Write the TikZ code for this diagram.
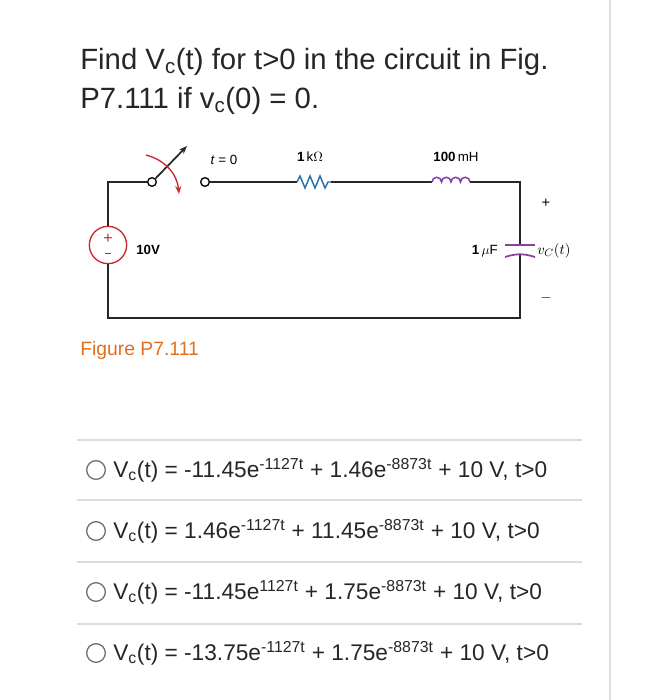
\documentclass[tikz,border=0pt]{standalone}
\usepackage{fontspec}
\setmainfont{Liberation Sans}
\usetikzlibrary{arrows.meta}
\definecolor{src}{HTML}{C8282D}
\definecolor{res}{HTML}{2A6FB0}
\definecolor{ind}{HTML}{7A3FA8}
\definecolor{capc}{HTML}{8A3F9A}
\definecolor{fig}{HTML}{E07020}
\definecolor{sep}{HTML}{DDDDDD}
\tikzset{wire/.style={line width=1.3pt,black!85},
 opt/.style={anchor=west,font=\fontsize{17}{19}\selectfont,text=black!85,inner sep=0},
 radio/.style={circle,draw=black!55,line width=1pt,minimum size=14pt,inner sep=0}}
\begin{document}
\begin{tikzpicture}[x=0.75pt,y=-0.75pt]
\useasboundingbox (0,0) rectangle (655,700);
\fill[white] (0,0) rectangle (655,700);
\draw[sep,line width=1pt] (610,0) -- (610,700);
\node[anchor=west,inner sep=0,font=\fontsize{22}{24}\selectfont,text=black!85] (t1) at (80,62) {Find V\textsubscript{c}(t) for t>0 in the circuit in Fig.};
\node[anchor=west,inner sep=0,font=\fontsize{22}{24}\selectfont,text=black!85] (t2) at (80,101) {P7.111 if v\textsubscript{c}(0) = 0.};
% circuit
\coordinate (tl) at (108,182); \coordinate (bl) at (108,318);
\coordinate (tr) at (520,182); \coordinate (br) at (520,318);
\node[circle,draw=src,line width=1pt,minimum size=28pt,inner sep=0] (vs) at (108,245) {};
\node[src,font=\fontsize{12}{12}\selectfont,inner sep=0] (vp) at (108,239) {+};
\node[src,inner sep=0] (vm) at (108,253) {\rule{5pt}{0.6pt}};
\node[anchor=west,font=\bfseries\fontsize{10}{10}\selectfont,inner sep=0] (vl) at (136,250) {10V};
\node[circle,draw,line width=1pt,fill=white,minimum size=6.5pt,inner sep=0] (s1) at (152,182) {};
\node[circle,draw,line width=1pt,fill=white,minimum size=6.5pt,inner sep=0] (s2) at (205,182) {};
\draw[wire] (vs.north) -- (tl) -- (s1.west);
\draw[wire] (vs.south) -- (bl) -- (br) -- (520,254);
\draw[wire,-{Stealth[length=6pt]}] (s1.north east) -- (187,146);
\draw[src,line width=1pt,-{Stealth[length=6pt]}] (146,155) to[bend left=35] (179,194);
\node[font=\fontsize{10}{10}\selectfont,inner sep=0] (t0) at (224,160) {\textit{t} = 0};
\draw[wire] (s2.east) -- (297,182);
\draw[res,line width=1.1pt] (297,182) -- (300,176) -- (305,188) -- (310,176) -- (315,188) -- (320,176) -- (325,188) -- (328,182) -- (331,182);
\draw[wire] (331,182) -- (432,182);
\draw[ind,line width=1.1pt] (432,182) arc(180:360:4.75) arc(180:360:4.75) arc(180:360:4.75) arc(180:360:4.75);
\draw[wire] (470,182) -- (tr) -- (520,245);
\node[font=\fontsize{10}{10}\selectfont,inner sep=0] (rl) at (310,157) {\textbf{1}\,k$\Omega$};
\node[font=\fontsize{10}{10}\selectfont,inner sep=0] (ll) at (456,157) {\textbf{100}\,mH};
\draw[capc,line width=1.3pt] (505,245) -- (535,245);
\draw[capc,line width=1.3pt] (505,257) to[bend left=18] (535,257);
\node[anchor=east,font=\fontsize{10}{10}\selectfont,inner sep=0] (cl) at (498,251) {\textbf{1}\,$\mu$F};
\node[anchor=west,font=\fontsize{11}{11}\selectfont,inner sep=0] (vc) at (537,251) {$v_C(t)$};
\node[font=\fontsize{11}{11}\selectfont,inner sep=0] (pl) at (546,203) {+};
\node[font=\fontsize{11}{11}\selectfont,inner sep=0] (mi) at (546,298) {$-$};
\node[anchor=west,fill=white,inner sep=0,font=\fontsize{14.5}{15}\selectfont,text=fig] (fl) at (80,350) {Figure P7.111};
% options
\foreach \y in {440,500,562,624} \draw[sep,line width=0.8pt] (77,\y) -- (582,\y);
\node[radio] (r1) at (96,470) {}; \node[radio] (r2) at (96,531) {};
\node[radio] (r3) at (96,592) {}; \node[radio] (r4) at (96,653) {};
\node[opt] (o1) at (113,470) {V\textsubscript{c}(t) = -11.45e\textsuperscript{-1127t} + 1.46e\textsuperscript{-8873t} + 10 V, t>0};
\node[opt] (o2) at (113,531) {V\textsubscript{c}(t) = 1.46e\textsuperscript{-1127t} + 11.45e\textsuperscript{-8873t} + 10 V, t>0};
\node[opt] (o3) at (113,592) {V\textsubscript{c}(t) = -11.45e\textsuperscript{1127t} + 1.75e\textsuperscript{-8873t} + 10 V, t>0};
\node[opt] (o4) at (113,653) {V\textsubscript{c}(t) = -13.75e\textsuperscript{-1127t} + 1.75e\textsuperscript{-8873t} + 10 V, t>0};
\end{tikzpicture}
\end{document}
